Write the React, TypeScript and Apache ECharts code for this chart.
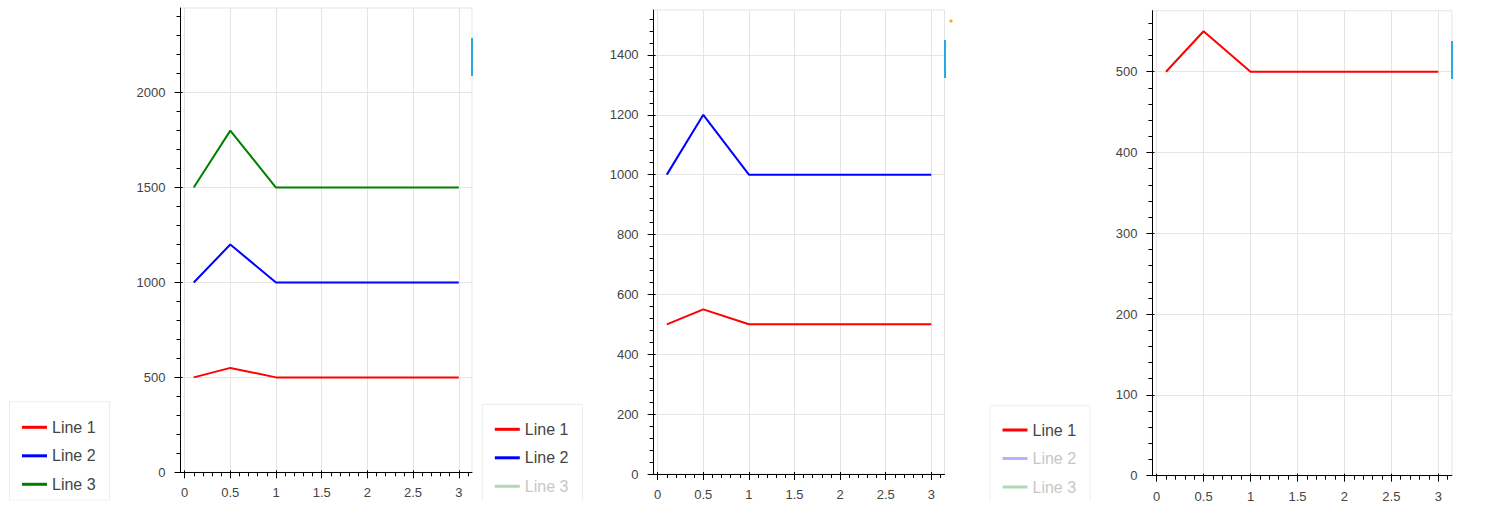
import * as echarts from 'echarts'
import { useEffect, useRef } from 'react'

// x positions shared by every line
const xs = [0.1, 0.5, 1, 2, 3]
const line1 = [500, 550, 500, 500, 500]
const line2 = [1000, 1200, 1000, 1000, 1000]
const line3 = [1500, 1800, 1500, 1500, 1500]

const seriesNames = ['Line 1', 'Line 2', 'Line 3']
const seriesValues = [line1, line2, line3]
const seriesColors = ['#ff0000', '#0000ff', '#008000']
const mutedColors = ['rgba(255,0,0,0.3)', 'rgba(0,0,255,0.3)', 'rgba(0,128,0,0.3)']

const xRange = [-0.045, 3.145]
const xMajorTicks = [0, 0.5, 1, 1.5, 2, 2.5, 3]
const yMajorTicks1 = [0, 500, 1000, 1500, 2000]
const yMajorTicks2 = [0, 200, 400, 600, 800, 1000, 1200, 1400]
const yMajorTicks3 = [0, 100, 200, 300, 400, 500]

const fontFamily = '"Liberation Sans", Arial, Helvetica, sans-serif'

/** 小刻度位置（与主刻度重叠处被长刻度盖住） */
function minorTicks(step: number, max: number): number[] {
  const out: number[] = []
  for (let v = step; v <= max + 1e-9; v += step) out.push(Math.round(v * 1000) / 1000)
  return out
}

type PanelConfig = {
  divLeft: number
  divWidth: number
  grid: { left: number; top: number; width: number; height: number }
  yTicks: number[]
  yInterval: number
  yMinorStep: number
  yMax: number
  legend: { left: number; top: number; padTop: number }
  visible: boolean[]
  toolbar: { x: number; y: number }
  logo?: { x: number; y: number }
}

const panels: PanelConfig[] = [
  {
    divLeft: 0,
    divWidth: 476,
    grid: { left: 180.5, top: 8, width: 291.5, height: 464.3 },
    yTicks: yMajorTicks1,
    yInterval: 500,
    yMinorStep: 100,
    yMax: 2446,
    legend: { left: 9.5, top: 401.7, padTop: 17.6 },
    visible: [true, true, true],
    toolbar: { x: 471, y: 38 },
  },
  {
    divLeft: 476,
    divWidth: 504,
    grid: { left: 177.6, top: 10, width: 290.9, height: 464 },
    yTicks: yMajorTicks2,
    yInterval: 200,
    yMinorStep: 40,
    yMax: 1550,
    legend: { left: 6.3, top: 404.3, padTop: 17 },
    visible: [true, true, false],
    toolbar: { x: 468, y: 40 },
    logo: { x: 475, y: 21 },
  },
  {
    divLeft: 980,
    divWidth: 520,
    grid: { left: 172.4, top: 10.7, width: 299.5, height: 465 },
    yTicks: yMajorTicks3,
    yInterval: 100,
    yMinorStep: 20,
    yMax: 575.5,
    legend: { left: 10, top: 405.7, padTop: 16.3 },
    visible: [true, false, false],
    toolbar: { x: 471, y: 41 },
  },
]

const plainNumber = (v: number) => String(v)

/** 只画刻度的辅助轴（小刻度、向内的短刻度） */
function tickOnlyAxis(
  min: number,
  max: number,
  interval: number,
  position: 'bottom' | 'left',
  values: number[],
  length: number,
  inside: boolean,
) {
  return {
    type: 'value',
    min,
    max,
    interval,
    position,
    axisLine: { show: false, onZero: false },
    axisTick: { show: true, inside, length, customValues: values, lineStyle: { color: '#000000', width: 1 } },
    axisLabel: { show: false },
    splitLine: { show: false },
  }
}

function buildOption(p: PanelConfig) {
  const labelStyle = { color: '#444444', fontSize: 13, fontFamily, formatter: plainNumber }
  const axisLine = { show: true, onZero: false, lineStyle: { color: '#000000', width: 1 } }
  const tickLine = { color: '#000000', width: 1 }
  const gridLine = { show: true, lineStyle: { color: '#e5e5e5', width: 1 } }

  const graphics: any[] = [
    {
      type: 'rect',
      z: 100,
      shape: { x: p.toolbar.x, y: p.toolbar.y, width: 2, height: 38 },
      style: { fill: '#26aae1' },
    },
    // 图例框在画布底部被裁掉
    {
      type: 'rect',
      z: 100,
      shape: { x: p.legend.left - 2, y: 500.5, width: 104, height: 20 },
      style: { fill: '#ffffff' },
    },
  ]
  if (p.logo) {
    graphics.push({
      type: 'circle',
      z: 100,
      shape: { cx: p.logo.x, cy: p.logo.y, r: 1.6 },
      style: { fill: '#f5a623' },
    })
  }

  return {
    animation: false,
    backgroundColor: '#ffffff',
    textStyle: { fontFamily },
    grid: {
      ...p.grid,
      show: true,
      borderColor: '#e5e5e5',
      borderWidth: 1,
      backgroundColor: 'transparent',
    },
    xAxis: [
      {
        type: 'value',
        min: xRange[0],
        max: xRange[1],
        interval: 0.5,
        position: 'bottom',
        axisLine,
        axisTick: { show: true, length: 6, customValues: xMajorTicks, lineStyle: tickLine },
        axisLabel: { ...labelStyle, margin: 14, customValues: xMajorTicks },
        splitLine: gridLine,
      },
      tickOnlyAxis(xRange[0], xRange[1], 0.5, 'bottom', minorTicks(0.1, 3.1), 4, false),
      tickOnlyAxis(xRange[0], xRange[1], 0.5, 'bottom', xMajorTicks, 2, true),
    ],
    yAxis: [
      {
        type: 'value',
        min: 0,
        max: p.yMax,
        interval: p.yInterval,
        position: 'left',
        axisLine,
        axisTick: { show: true, length: 6, customValues: p.yTicks, lineStyle: tickLine },
        axisLabel: { ...labelStyle, margin: 15, customValues: p.yTicks },
        splitLine: gridLine,
      },
      tickOnlyAxis(0, p.yMax, p.yInterval, 'left', minorTicks(p.yMinorStep, p.yMax), 4, false),
      tickOnlyAxis(0, p.yMax, p.yInterval, 'left', p.yTicks, 2, true),
    ],
    legend: {
      orient: 'vertical',
      left: p.legend.left,
      top: p.legend.top,
      padding: [p.legend.padTop, 14, 8, 12.5],
      icon: 'rect',
      itemWidth: 25,
      itemHeight: 3,
      itemGap: 12.5,
      selectedMode: false,
      borderColor: '#ececec',
      borderWidth: 1,
      backgroundColor: '#ffffff',
      textStyle: { color: '#444444', fontSize: 16, fontFamily },
      // 隐藏的线：图例里淡色显示
      data: seriesNames.map((name, i) => ({
        name,
        itemStyle: { color: p.visible[i] ? seriesColors[i] : mutedColors[i] },
        textStyle: { color: p.visible[i] ? '#444444' : '#c7c7c7' },
      })),
    },
    graphic: graphics,
    series: seriesNames.map((name, i) => ({
      name,
      type: 'line',
      xAxisIndex: 0,
      yAxisIndex: 0,
      symbol: 'none',
      showSymbol: false,
      color: seriesColors[i],
      lineStyle: { color: seriesColors[i], width: 2 },
      data: p.visible[i] ? xs.map((x, j) => [x, seriesValues[i][j]]) : [],
    })),
  }
}

function Panel({ panel }: { panel: PanelConfig }) {
  const ref = useRef<HTMLDivElement>(null)

  useEffect(() => {
    if (!ref.current) return
    const chart = echarts.init(ref.current, undefined, { renderer: 'svg' })
    chart.setOption(buildOption(panel) as any)
    return () => chart.dispose()
  }, [panel])

  return (
    <div
      ref={ref}
      style={{ position: 'absolute', left: panel.divLeft, top: 0, width: panel.divWidth, height: 514 }}
    />
  )
}

export default function App() {
  return (
    <div style={{ position: 'fixed', left: 0, top: 0, width: 1500, height: 514, background: '#ffffff' }}>
      {panels.map((p, i) => (
        <Panel key={i} panel={p} />
      ))}
    </div>
  )
}
